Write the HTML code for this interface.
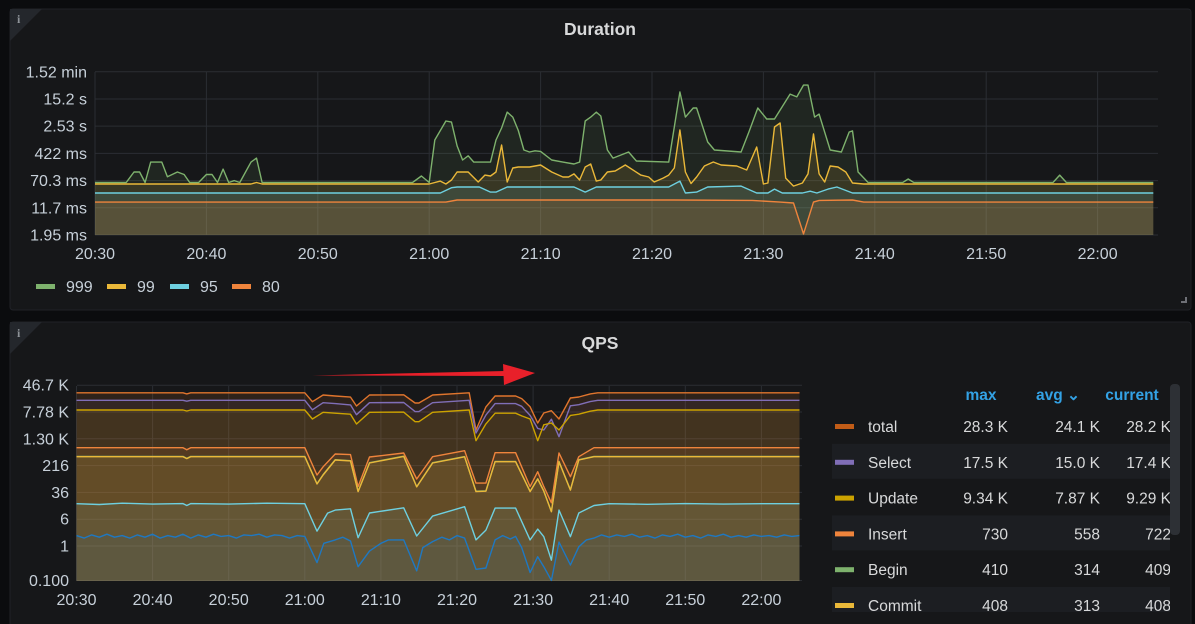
<!DOCTYPE html>
<html><head><meta charset="utf-8"><style>
html,body{margin:0;padding:0;background:#0b0c0e;}
svg{display:block;font-family:"Liberation Sans",sans-serif;}
</style></head><body>
<svg id="s" width="1195" height="624" viewBox="0 0 1195 624" xmlns="http://www.w3.org/2000/svg">
<rect x="10" y="9" width="1181" height="301" rx="3" fill="#161719" stroke="#202227"/>
<path d="M10 9 L42 9 L10 41 Z" fill="#24272c"/>
<text x="17" y="23" fill="#8e9399" font-size="12" font-weight="bold" font-family="Liberation Serif,serif">i</text>
<text x="600" y="35" text-anchor="middle" fill="#d8d9da" font-size="17.5" font-weight="bold">Duration</text>
<path d="M1181 302 L1186 302 L1186 297" stroke="#6e7076" stroke-width="2" fill="none"/>
<rect x="10" y="322" width="1181" height="310" rx="3" fill="#161719" stroke="#202227"/>
<path d="M10 322 L42 322 L10 354 Z" fill="#24272c"/>
<text x="17" y="337" fill="#8e9399" font-size="12" font-weight="bold" font-family="Liberation Serif,serif">i</text>
<text x="600" y="349" text-anchor="middle" fill="#d8d9da" font-size="17.5" font-weight="bold">QPS</text>
<g id="dur"></g>
<g id="qps"></g>
<g>
<path d="M312 375.5 L505 371 L505 376 Z" fill="#e8202a"/>
<path d="M503 364 L535 373 L504 385 Z" fill="#e8202a"/>
</g>
<g id="dleg"></g>
<g id="tbl"></g>
</svg>
<script>
// ---------- Duration data (t = minutes after 20:30, value in ms) ----------
const durTicks = ["1.95 ms","11.7 ms","70.3 ms","422 ms","2.53 s","15.2 s","1.52 min"];
const timeLabels = ["20:30","20:40","20:50","21:00","21:10","21:20","21:30","21:40","21:50","22:00"];
const durNames = ["999","99","95","80"];
const p999 = [[0,62],[2.8,62],[3.5,124],[4,124],[4.5,62],[5,238],[6,238],[6.5,90],[7.4,124],[8,105],[8.5,62],[9.3,62],[10,105],[10.5,105],[11,62],[11.5,150],[12,62],[12.5,70],[13,62],[14,238],[14.5,310],[15,62],[28.5,62],[29.3,95],[30,62],[30.5,1020],[31.5,3570],[32,3300],[32.5,690],[33,273],[33.5,360],[34,238],[35.5,238],[36,1020],[36.5,2250],[37,6400],[37.5,4600],[38,1900],[38.5,527],[39,463],[39.5,500],[40,480],[41,273],[42,238],[43,210],[43.5,238],[44,3570],[44.5,4600],[45,6400],[45.4,4950],[46,527],[46.5,310],[47.9,463],[48.6,255],[51.5,238],[52.5,24000],[53,4600],[53.7,8400],[54,8400],[55,895],[55.6,527],[58,463],[58.7,1720],[59.5,8400],[60.3,4050],[61,4050],[62.4,21000],[63,17400],[63.6,38000],[64,38000],[64.6,4600],[65,5600],[66,527],[67,463],[67.7,1720],[68,1850],[68.5,124],[69.4,62],[72.5,62],[73,78],[73.5,62],[86,62],[86.6,101],[87.2,62],[95,62]];
const p99 = [[0,56],[14,56],[14.5,62],[15,56],[30,56],[31,68],[31.5,56],[32,73],[32.5,124],[33.5,124],[34.4,64],[35,101],[35.5,95],[36,124],[36.5,733],[37,64],[37.5,161],[38,172],[39,172],[40,196],[41,124],[42,89],[42.5,89],[43,109],[43.5,73],[44,172],[44.5,209],[45,68],[45.4,73],[46,124],[46.7,132],[47.6,196],[49,101],[49.7,89],[50.2,64],[51,83],[51.5,101],[52,161],[52.5,1970],[53,124],[53.5,58],[54,89],[54.7,184],[55.5,239],[56.2,196],[57.6,184],[58.5,141],[59.4,644],[60,56],[60.4,60],[61,2400],[61.5,3120],[62,83],[62.7,49],[63.5,60],[64,109],[64.5,1510],[65,109],[65.5,64],[66,184],[66.7,172],[67.4,124],[68,60],[69,56],[95,56]];
const p95 = [[0,31],[31,31],[32,44],[32.5,46],[34.5,46],[35.5,33],[36,33],[37,46],[43,46],[44,33],[45,46],[51.5,46],[52.5,68],[53,31],[54,33],[55,46],[58,49],[59.4,31],[60.4,31],[61,40],[61.7,31],[63.5,31],[64.2,35],[64.8,31],[65.8,40],[66.6,46],[68,31],[95,31]];
const p80 = [[0,17],[31.5,17],[32.5,19.6],[52,19.6],[59,19],[61.5,17],[62.7,16],[63.6,2.1],[64.5,17],[65,19],[68,19.6],[69,17],[95,17]];

// ---------- QPS data ----------
const qpsTicks = ["0.100","1","6","36","216","1.30 K","7.78 K","46.7 K"];
const qpsTickVals = [0.1,1,6,36,216,1296,7776,46656];
const qTotal = [[0,28000],[14,28000],[14.5,26000],[15,28000],[30,28000],[31,15500],[32.4,24200],[34,22700],[36,21000],[36.8,11600],[38.5,24200],[43,24500],[44.5,14200],[45,14200],[46.8,24200],[51.6,28000],[52.5,2330],[53.8,10900],[55,22700],[57.7,22700],[58.5,19000],[59.6,11000],[60.6,3720],[61.4,7270],[62.4,8500],[63.4,4870],[64.9,19800],[66,21200],[67.5,26000],[68.5,28000],[95,28000]];
const qSelect = [[0,17000],[14,17000],[14.5,16000],[15,17000],[30,17000],[31,9000],[32.4,14500],[34,13600],[36,12500],[36.8,6500],[38.5,14500],[43,14700],[44.5,8000],[45,8000],[46.8,14500],[51.6,17000],[52.5,1900],[53.8,6300],[55,13600],[57.7,13600],[58.5,11400],[59.6,6200],[60.6,2600],[61.4,2330],[62.4,4800],[63.4,1490],[64.9,11800],[66,12700],[67.5,15600],[68.5,17000],[95,17000]];
const qUpdate = [[0,8900],[14,8900],[14.5,8300],[15,8900],[30,8900],[31,4870],[32.4,7600],[34,7200],[36,6700],[36.8,3490],[38.5,7600],[43,7700],[44.5,4070],[45,4070],[46.8,7600],[51.6,8900],[52.5,1140],[53.8,3500],[55,7200],[57.7,7200],[58.5,6000],[59.6,4870],[60.6,1140],[61.4,3300],[62.4,3720],[63.4,2330],[64.9,6200],[66,6700],[67.5,8200],[68.5,8900],[95,8900]];
const qInsert = [[0,715],[14,715],[14.5,620],[15,715],[30,715],[31.6,115],[32.4,200],[34,470],[36,450],[37,53],[38.5,384],[43,500],[44.7,88],[46.8,392],[51,585],[52.5,67],[53.8,67],[55,512],[57.7,512],[59.6,53],[60.6,144],[61.4,53],[62.4,18],[63.4,500],[64.9,103],[66,392],[68,715],[95,715]];
const qBegin = [[0,400],[14,400],[14.5,350],[15,400],[30,400],[31.6,65],[32.4,118],[34,320],[36,300],[37,39],[38.5,262],[43,405],[44.7,53],[46.8,262],[51,395],[52.5,39],[53.8,40],[55,285],[57.7,285],[59.6,39],[60.6,90],[61.4,40],[62.4,10],[63.4,285],[64.9,43],[66,320],[68,400],[95,400]];
const qCommit = [[0,392],[14,392],[14.5,345],[15,392],[30,392],[31.6,63],[32.4,115],[34,314],[36,295],[37,38],[38.5,257],[43,400],[44.7,52],[46.8,257],[51,390],[52.5,38],[53.8,39],[55,280],[57.7,280],[59.6,38],[60.6,88],[61.4,39],[62.4,9.9],[63.4,280],[64.9,42],[66,314],[68,392],[95,392]];
const qRollback = [[0,16.9],[3,16],[6,17.5],[10,16.5],[14,17],[14.5,15],[15,17],[20,16.5],[25,17.5],[30,16.9],[31.6,2.7],[33,9],[34,11],[36,12],[37,1.74],[38.5,9.1],[43,12.9],[44.7,1.95],[46.8,7.4],[51,13.8],[52.5,1.5],[53.8,2.9],[55,12.6],[57.7,12.6],[59.6,1.5],[60.6,3.1],[61.4,1.86],[62.4,0.39],[63.4,11],[64.9,1.86],[66,9.1],[68,15],[70,16.9],[75,16.3],[80,17],[85,16.5],[90,16.9],[95,16.9]];
const qDelete = [[0,2],[1,1.7],[2,2.1],[3,1.8],[4,2.2],[5,1.8],[6,2],[7,1.7],[8,2.1],[9,1.8],[10,2.2],[11,1.7],[12,2],[13,1.8],[14,2.2],[15,1.7],[16,2.1],[17,1.8],[18,2.2],[19,1.9],[20,2],[21,1.7],[22,2.1],[23,2],[24,2.2],[25,1.8],[26,2.1],[27,2],[28,1.7],[29,2],[30,1.9],[31.6,0.33],[32.5,1.2],[34,1.5],[35,1.8],[36,1.4],[37,0.25],[38.5,0.71],[40,1.2],[41,1.5],[43,1.5],[44.7,0.19],[45.5,0.9],[46.8,1.34],[48,1.8],[49,1.5],[50,2],[51,1.7],[52.5,0.21],[53.8,0.23],[55,1.5],[56,2],[57,1.6],[57.7,1.9],[58.5,0.9],[59.6,0.17],[60.6,0.49],[61.4,0.25],[62.4,0.1],[63.4,1.3],[64.9,0.28],[66,0.95],[67,1.5],[68,1.7],[69,2.1],[70,1.8],[71,2.1],[72,1.9],[73,2.2],[74,1.8],[75,2],[76,1.7],[77,2.1],[78,1.9],[79,2.2],[80,1.8],[81,2],[82,1.7],[83,2.1],[84,1.9],[85,2.2],[86,1.8],[87,2],[88,1.8],[89,2.1],[90,1.9],[91,2],[92,1.8],[93,2.1],[94,1.9],[95,2]];
const legNames = ["total","Select","Update","Insert","Begin","Commit"];
const legMax = ["28.3 K","17.5 K","9.34 K","730","410","408"];
const legAvg = ["24.1 K","15.0 K","7.87 K","558","314","313"];
const legCur = ["28.2 K","17.4 K","9.29 K","722","409","408"];

const NS="http://www.w3.org/2000/svg";
function mk(tag,attrs,parent,txt){const e=document.createElementNS(NS,tag);for(const k in attrs)e.setAttribute(k,attrs[k]);if(txt!==undefined)e.textContent=txt;parent.appendChild(e);return e;}
const L6=Math.log(6);
const xD=t=>95+11.14*t;
const yD=v=>235-27.2*Math.log(v/1.95)/L6;
const xQ=t=>76.5+7.61*t;
const yQ=v=>Math.min(581,546-26.8*Math.log(v)/L6);

function drawChart(g,x,y,x0,x1,yTop,yBot,tickVals,tickLabs,series,prefix){
  tickVals.forEach((v,i)=>{const yy=y(v);
    const gl=mk('line',{x1:x0,x2:x1,y1:yy,y2:yy,stroke:'#2b2e33','stroke-width':1},g);
    
    
    const tl=mk('text',{x:x0-8,y:yy+5.5,'text-anchor':'end',fill:'#c7d0d9','font-size':16},g,tickLabs[i]);
    
    
  });
  timeLabels.forEach((lab,i)=>{const xx=x(i*10);
    const gl=mk('line',{x1:xx,x2:xx,y1:yTop,y2:yBot,stroke:'#2b2e33','stroke-width':1},g);
    
    
    const tl=mk('text',{x:xx,y:yBot+24,'text-anchor':'middle',fill:'#c7d0d9','font-size':16},g,lab);
    
    
  });
  series.forEach(s=>{
    const pts=s.d.map(p=>x(p[0]).toFixed(1)+','+y(p[1]).toFixed(1));
    const area='M'+x(s.d[0][0]).toFixed(1)+','+yBot+' L'+pts.join(' L')+' L'+x(s.d[s.d.length-1][0]).toFixed(1)+','+yBot+' Z';
    const a=mk('path',{d:area,fill:s.c,'fill-opacity':s.fo},g);
    
    
  });
  series.forEach(s=>{
    const pts=s.d.map(p=>x(p[0]).toFixed(1)+','+y(p[1]).toFixed(1));
    const l=mk('polyline',{points:pts.join(' '),fill:'none',stroke:s.c,'stroke-width':1.4,'stroke-linejoin':'round'},g);
    
    
  });
}
const durVals=[1.95,11.7,70.3,422,2530,15200,91200];
drawChart(document.getElementById('dur'),xD,yD,95,1158,72,235,durVals,durTicks,[
  {n:'999',d:p999,c:'#7eb26d',fo:0.1},{n:'99',d:p99,c:'#eab839',fo:0.12},{n:'95',d:p95,c:'#6ed0e0',fo:0.12},{n:'80',d:p80,c:'#ef843c',fo:0.14}],'duration');
drawChart(document.getElementById('qps'),xQ,yQ,77,802,386,581,qpsTickVals,qpsTicks,[
  {n:'total',d:qTotal,c:'#e0752d',fo:0.12},{n:'select',d:qSelect,c:'#806eb7',fo:0.06},{n:'update',d:qUpdate,c:'#cca300',fo:0.1},
  {n:'insert',d:qInsert,c:'#ef843c',fo:0.1},{n:'begin',d:qBegin,c:'#7eb26d',fo:0.05},{n:'commit',d:qCommit,c:'#eab839',fo:0.1},
  {n:'rollback',d:qRollback,c:'#6ed0e0',fo:0.08},{n:'delete',d:qDelete,c:'#1f78c1',fo:0.08}],'qps');

// Duration legend
const dl=document.getElementById('dleg');
const dColors=['#7eb26d','#eab839','#6ed0e0','#ef843c'];
const dSw=[36,107,170,232];
durNames.forEach((n,i)=>{
  const r=mk('rect',{x:dSw[i],y:284,width:19,height:5,fill:dColors[i]},dl);
  
  
  const t=mk('text',{x:dSw[i]+30,y:292,fill:'#c7d0d9','font-size':16},dl,n);
  
  
});

// QPS legend table
const tb=document.getElementById('tbl');
const lColors=['#c15c17','#806eb7','#cca300','#ef843c','#7eb26d','#eab839'];
[['max',981],['avg ⌄',1058],['current',1132]].forEach(h=>{
  const t=mk('text',{x:h[1],y:400,'text-anchor':'middle',fill:'#33a2e5','font-size':15.5,'font-weight':'bold'},tb,h[0]);
  
  
});
const clip=mk('clipPath',{id:'tc'},tb);mk('rect',{x:826,y:380,width:344,height:232},clip);
const rows=mk('g',{'clip-path':'url(#tc)'},tb);
legNames.forEach((n,i)=>{
  const cy=426+i*35.8;
  if(i%2===1){const bg=mk('rect',{x:832,y:cy-18,width:340,height:35,fill:'#1c1e22'},rows);
    
    }
  const sw=mk('rect',{x:835,y:cy-2,width:19,height:5,fill:lColors[i]},rows);
  
  
  const t=mk('text',{x:868,y:cy+6,fill:'#d8d9da','font-size':15.5},rows,n);
  
  
  [[legMax[i],1008],[legAvg[i],1100],[legCur[i],1171]].forEach((v,j)=>{
    const tv=mk('text',{x:v[1],y:cy+6,'text-anchor':'end',fill:'#d8d9da','font-size':15.5},rows,v[0]);
    
    
  });
});
const sb=mk('rect',{x:1170,y:384,width:10,height:151,rx:4,fill:'#2d3035'},tb);


</script>
</body></html>
